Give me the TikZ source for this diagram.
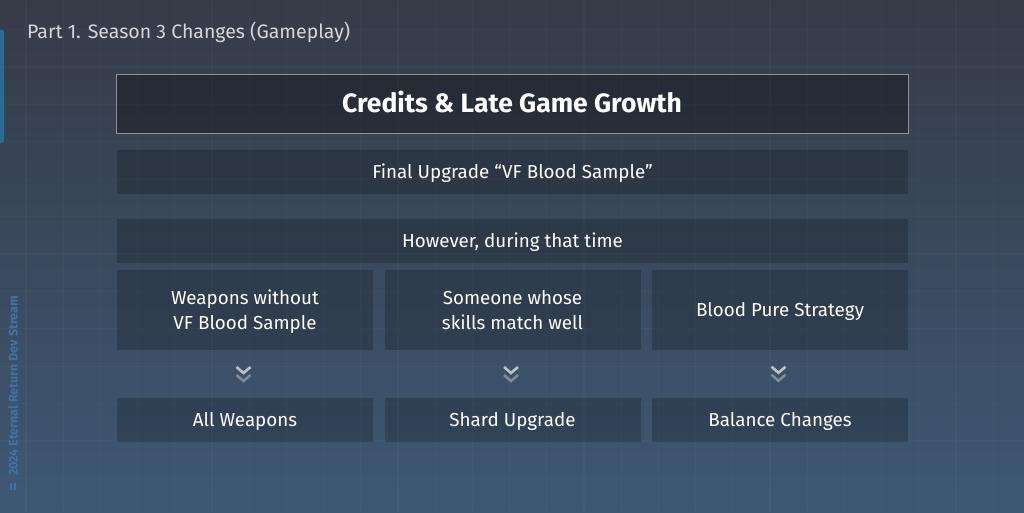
\documentclass[tikz,border=0pt]{standalone}
\usepackage{fontspec}
\setmainfont{Fira Sans}
\usepackage{tikz}
\usepackage{xcolor}
\usetikzlibrary{positioning, calc}

\definecolor{bgtop}{HTML}{363B47}
\definecolor{bgbot}{HTML}{3E5874}
\definecolor{framegray}{HTML}{8E919A}
\definecolor{sideblue}{HTML}{2E6A96}
\definecolor{sidetext}{HTML}{3F73A3}
\definecolor{chevlight}{HTML}{BAC1CA}
\definecolor{chevdark}{HTML}{7F8B9A}
\definecolor{titlegray}{HTML}{D4D6DB}

\begin{document}
\begin{tikzpicture}[x=1pt, y=-1pt,
    panel/.style={fill=black, fill opacity=0.2, text opacity=1, text=white, inner sep=0pt,
      minimum height=44, align=center, text height=13, text depth=0, font=\fontsize{18.8}{25}\selectfont},
    cell/.style={panel, minimum width=256},
    twoline/.style={cell, minimum height=80, text height=38, text depth=0},
    chev/.style={line width=2.6pt, line join=miter}]
    % backdrop
    \useasboundingbox (0,0) rectangle (1024,512);
    \shade[top color=bgtop, bottom color=bgbot] (0,0) rectangle (1024,512);
    \foreach \gx in {0,...,27} \draw[white, opacity=0.025, line width=1.2pt] (26+37.2*\gx,0) -- (26+37.2*\gx,512);
    \foreach \gy in {0,...,13} \draw[white, opacity=0.025, line width=1.2pt] (0,29.5+37.4*\gy) -- (1024,29.5+37.4*\gy);
    \fill[sideblue, rounded corners=2pt] (-4,30) rectangle (4,143);
    \node[anchor=west, text=titlegray, font=\fontsize{19.5}{19.5}\selectfont, inner sep=0pt] (title) at (27,32) {Part 1. Season 3 Changes (Gameplay)};
    \node[rotate=90, text=sidetext, font=\bfseries\fontsize{12.5}{12.5}\selectfont, inner sep=0pt] (stream) at (13,386) {2024 Eternal Return Dev Stream};
    \fill[sidetext] (10,483) rectangle (12,490) (14,483) rectangle (16,490);
    % top rows
    \node[panel, fill opacity=0.3, draw=framegray, draw opacity=1, line width=1pt, minimum width=792, minimum height=59,
      text height=18.3, font=\bfseries\fontsize{26.5}{26.5}\selectfont] (head) at (512,103.5) {Credits \& Late Game Growth};
    \node[panel, minimum width=791] (sample) at (512.5,172) {Final Upgrade “VF Blood Sample”};
    \node[panel, minimum width=791] (during) at (512.5,241) {However, during that time};
    % three columns
    \node[twoline] (nosample) at (245,310) {Weapons without\\VF Blood Sample};
    \node[twoline] (skills) at (512.5,310) {Someone whose\\skills match well};
    \node[cell, minimum height=80] (pure) at (780,309.5) {Blood Pure Strategy};
    \node[cell] (allweap) at (245,420) {All Weapons};
    \node[cell] (shard) at (512.5,420) {Shard Upgrade};
    \node[cell] (balance) at (780,420) {Balance Changes};
    % chevrons
    \foreach \up/\down in {nosample/allweap, skills/shard, pure/balance} {
        \coordinate (m) at ($(\up.south)!0.5!(\down.north) + (-1.5,-1)$);
        \draw[chev, chevlight] ($(m)+(-7,-6)$) -- ($(m)+(0,0)$) -- ($(m)+(7,-6)$);
        \draw[chev, chevdark] ($(m)+(-7,2)$) -- ($(m)+(0,8)$) -- ($(m)+(7,2)$);
    }
\end{tikzpicture}
\end{document}
